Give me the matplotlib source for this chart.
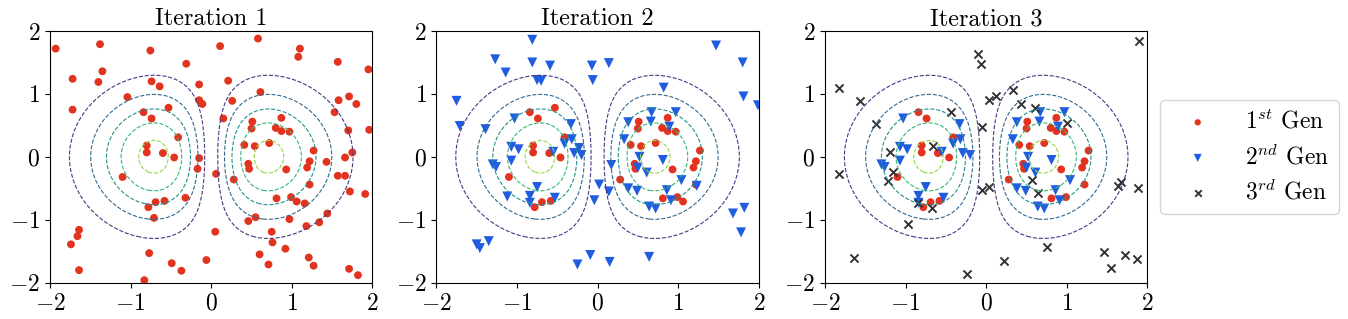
import numpy as np
import matplotlib.pyplot as plt

plt.rcParams['font.family'] = 'serif'
plt.rcParams['font.serif'] = ['cmr10']
plt.rcParams['mathtext.fontset'] = 'cm'
plt.rcParams['axes.formatter.use_mathtext'] = True
plt.rcParams['font.size'] = 17

# 1st generation samples (iteration 1)
gen1_x = [-1.93, -1.38, -0.755, 0.11, 0.58, 1.10, 1.08, 1.57, 1.95, -0.31,
          -1.72, -1.35, -1.40, -0.74, -0.64, -0.15, 0.21, -1.04, -0.15, -0.11,
          0.26, 0.61, 1.58, 1.71, 1.80, -1.72, -0.53, -0.84, -0.74, 0.15,
          0.51, 0.87, 0.50, 0.80, 0.87, 0.97, 1.53, 1.70, 1.96, -0.41,
          -0.80, -0.80, -0.60, -0.46, -0.15, -0.17, 0.41, 0.54, 0.72, 1.27,
          1.22, 1.19, 1.43, 1.66, 1.75, 1.57, 1.66, 0.46, 0.47, 0.93,
          -1.10, 0.06, 0.28, 1.22, 1.72, 1.91, -0.32, -0.58, -0.69, -0.78,
          0.81, 0.99, 1.06, 1.16, -0.71, 0.46, 0.55, 0.97, 1.34, 1.44,
          1.18, -1.64, -1.66, -1.74, 0.05, 0.75, 0.76, 0.92, -0.77, 0.60,
          1.21, -0.49, -0.06, 0.71, 1.27, -1.64, -0.37, 1.71, 1.82, -0.83]
gen1_y = [1.72, 1.79, 1.69, 1.76, 1.88, 1.72, 1.59, 1.51, 1.39, 1.48,
          1.24, 1.36, 1.19, 1.20, 1.12, 1.15, 1.21, 0.95, 0.90, 0.84,
          0.89, 1.03, 0.90, 0.96, 0.84, 0.75, 0.78, 0.71, 0.61, 0.61,
          0.56, 0.62, 0.45, 0.46, 0.41, 0.40, 0.71, 0.42, 0.43, 0.31,
          0.18, 0.07, 0.06, -0.01, -0.02, -0.19, 0.19, 0.17, 0.22, 0.10,
          -0.07, -0.17, -0.08, -0.01, 0.07, -0.30, -0.30, -0.11, -0.19, -0.20,
          -0.32, -0.27, -0.36, -0.44, -0.55, -0.59, -0.65, -0.70, -0.72, -0.80,
          -0.66, -0.64, -0.71, -0.74, -0.97, -1.02, -0.96, -0.99, -1.04, -0.90,
          -1.10, -1.16, -1.26, -1.39, -1.19, -1.19, -1.36, -1.46, -1.53, -1.55,
          -1.60, -1.69, -1.64, -1.71, -1.73, -1.80, -1.81, -1.78, -1.88, -1.96]

# 1st generation samples still present in iterations 2 and 3
gen1_kept_it2 = [26, 27, 28, 39, 40, 41, 42, 43, 60, 67, 68, 69,
                 30, 31, 32, 33, 34, 35, 46, 47, 48, 49, 50, 51, 57, 58, 59,
                 62, 63, 70, 71, 72]
gen1_kept_it3 = [27, 28, 39, 40, 41, 42, 43, 60, 67, 68, 69,
                 30, 31, 32, 33, 34, 35, 46, 47, 48, 49, 50, 51, 57, 58, 59,
                 62, 63, 70, 71]

# 2nd generation samples (iteration 2)
gen2_x = [-0.81, -1.27, -0.81, -0.59, -1.14, -0.07, -0.06, -0.75, -0.70, -1.75,
          -1.71, -1.39, -1.03, -0.33, -0.41, -0.32, -0.23, -0.29, -0.20, -1.07,
          -0.98, -0.55, -1.07, -1.30, -1.26, -0.75, -1.12, -0.84, -0.84, -0.53,
          -0.04, -1.50, -1.46, -1.35, -0.25, -0.09, 0.14, 1.47, 1.80, 1.81,
          1.99, 0.82, 0.67, 0.97, 0.38, 0.66, 0.89, 0.33, 0.52, 0.81,
          0.50, 0.61, 0.17, 0.02, 0.14, 0.38, 0.49, 1.04, 1.23, 0.86,
          0.91, 0.64, 0.72, 1.68, 1.82, 1.78, 0.64, 0.15]
gen2_y = [1.86, 1.55, 1.50, 1.45, 1.34, 1.45, 1.22, 1.22, 1.21, 0.89,
          0.49, 0.44, 0.61, 0.52, 0.21, 0.28, 0.14, 0.06, 0.03, 0.16,
          0.12, 0.08, -0.06, -0.12, -0.16, -0.48, -0.63, -0.62, -0.73, -0.65,
          -0.69, -1.39, -1.45, -1.34, -1.71, -1.56, 1.49, 1.77, 1.50, 0.96,
          0.82, 1.10, 0.71, 0.71, 0.55, 0.56, 0.48, 0.28, 0.00, -0.05,
          -0.17, -0.25, -0.13, -0.44, -0.55, -0.50, -0.54, -0.37, -0.46, -0.53,
          -0.69, -0.79, -0.82, -0.90, -0.81, -1.20, -1.59, -1.67]
gen2_kept_it3 = [12, 13, 14, 15, 17, 18, 19, 20, 21, 22, 23, 24, 25, 27, 28, 29,
                 42, 43, 44, 45, 46, 47, 48, 49, 50, 51, 55, 56, 57, 59, 60, 61, 62]

# 3rd generation samples (iteration 3)
gen3_x = [-1.82, -1.56, -1.37, -0.44, -0.10, -0.06, -0.05, -0.05, -1.19, -0.66,
          -1.15, -1.22, -1.82, -0.84, -0.67, -0.97, -1.64, -0.24, 1.89, 0.33,
          0.03, 0.12, 0.43, 0.61, 1.00, 0.57, 0.64, 0.04, 1.63, 1.67,
          1.88, 0.76, 0.22, 1.46, 1.55, 1.72, 1.87]
gen3_y = [1.10, 0.88, 0.52, 0.72, 1.63, 1.47, 0.48, -0.53, 0.08, 0.18,
          -0.24, -0.38, -0.28, -0.74, -0.81, -1.07, -1.60, -1.86, 1.84, 1.07,
          0.90, 0.97, 0.84, 0.77, 0.54, -0.36, -0.57, -0.48, -0.46, -0.40,
          -0.49, -1.43, -1.66, -1.52, -1.77, -1.56, -1.62]

titles = ['Iteration 1', 'Iteration 2', 'Iteration 3']
labels = ['$1^{st}$ Gen', '$2^{nd}$ Gen', '$3^{rd}$ Gen']
levels = [0.08, 0.16, 0.24, 0.32, 0.40]

g = np.linspace(-2, 2, 60)
X, Y = np.meshgrid(g, g)
Z = np.abs(X) * np.exp(-(X**2 + Y**2))

gen1_x = np.array(gen1_x); gen1_y = np.array(gen1_y)
gen2_x = np.array(gen2_x); gen2_y = np.array(gen2_y)
gen3_x = np.array(gen3_x); gen3_y = np.array(gen3_y)

red = '#E2331F'
blue = '#1F5CE0'
dark = '#333333'

fig = plt.figure(figsize=(13.48, 3.19), dpi=100)
lefts = [0.0371, 0.3237, 0.612]
axes = [fig.add_axes([l, 0.1138, 0.2392, 0.789]) for l in lefts]

for i, ax in enumerate(axes):
    ax.contour(X, Y, Z, levels=levels, cmap='viridis', vmin=0, vmax=0.48,
               linestyles='dashed', linewidths=0.8)
    ax.set_xlim(-2, 2)
    ax.set_ylim(-2, 2)
    ax.set_xticks([-2, -1, 0, 1, 2])
    ax.set_yticks([-2, -1, 0, 1, 2])
    ax.tick_params(labelsize=17)
    ax.set_title(titles[i], fontsize=17.5, pad=4)

axes[0].scatter(gen1_x, gen1_y, s=32, c=red, marker='o', edgecolors='none')

k = gen1_kept_it2
axes[1].scatter(gen1_x[k], gen1_y[k], s=32, c=red, marker='o', edgecolors='none')
axes[1].scatter(gen2_x, gen2_y, s=52, c=blue, marker='v', edgecolors='none')

k1 = gen1_kept_it3
k2 = gen2_kept_it3
h1 = axes[2].scatter(gen1_x[k1], gen1_y[k1], s=32, c=red, marker='o', edgecolors='none')
h2 = axes[2].scatter(gen2_x[k2], gen2_y[k2], s=52, c=blue, marker='v', edgecolors='none')
h3 = axes[2].scatter(gen3_x, gen3_y, s=34, c=dark, marker='x', linewidths=1.4)

fig.legend([h1, h2, h3], labels, loc='center left', bbox_to_anchor=(0.8605, 0.508),
           fontsize=17, handlelength=2.4, markerscale=0.8, borderpad=0.4,
           labelspacing=0.45, borderaxespad=0)

fig.savefig('out.png', dpi=100)
